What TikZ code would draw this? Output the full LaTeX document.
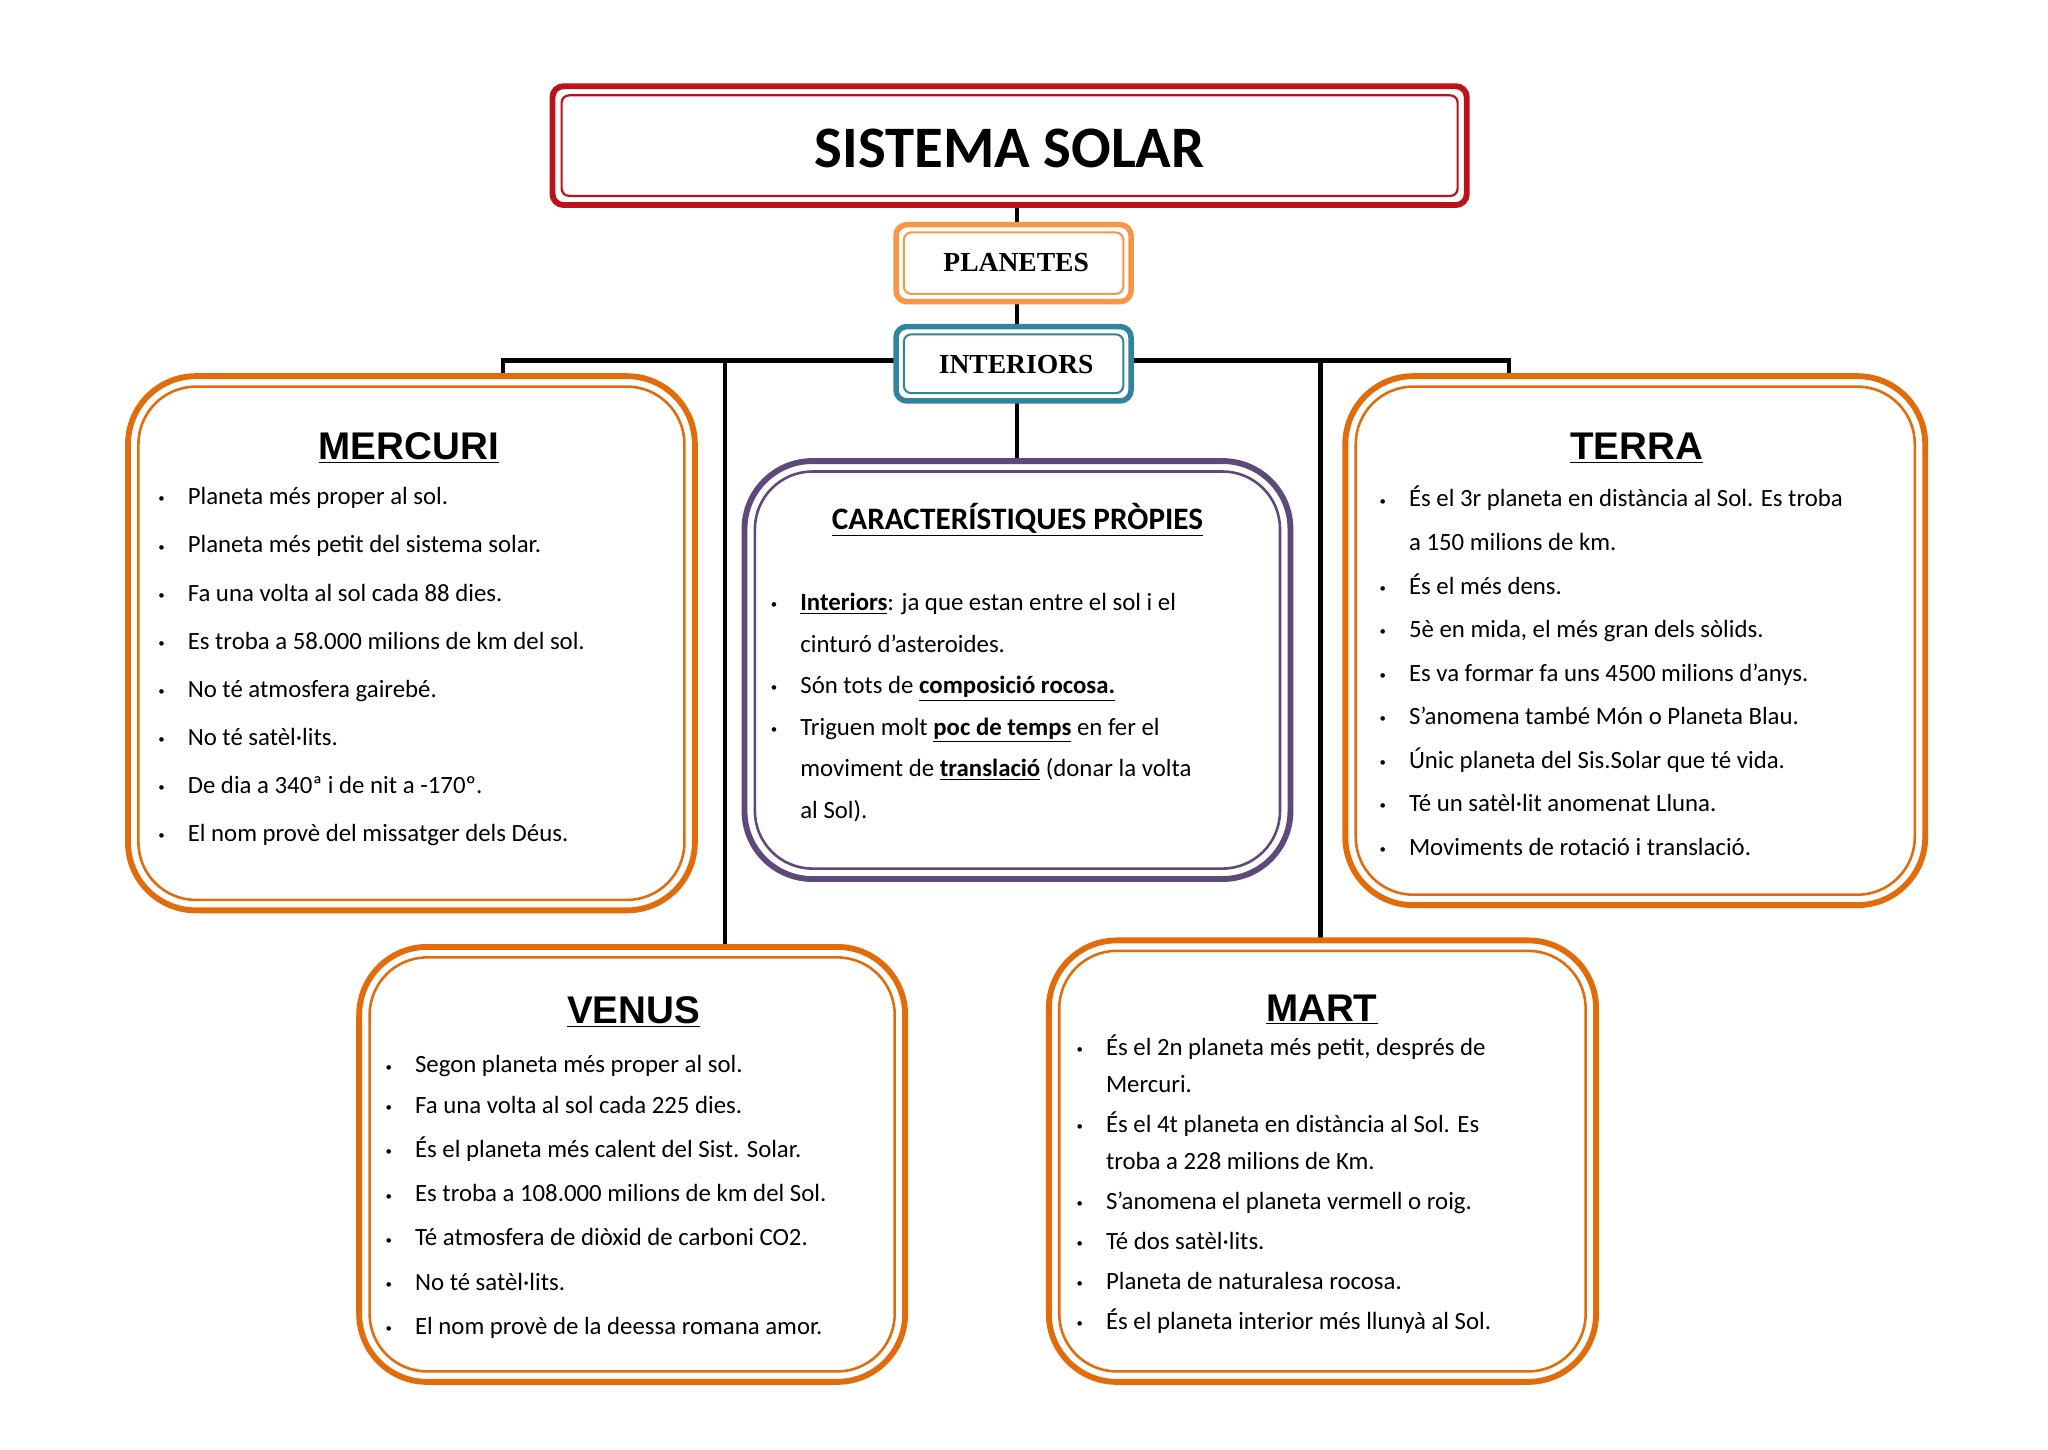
\documentclass[tikz,border=0pt]{standalone}
\usepackage{fontspec}
\setmainfont{Carlito}
\newfontfamily\serifb{Liberation Serif}
\newfontfamily\headf{Liberation Sans}
\definecolor{cred}{HTML}{C0101A}
\definecolor{corg}{HTML}{E36C0A}
\definecolor{clor}{HTML}{F79646}
\definecolor{cteal}{HTML}{31849B}
\definecolor{cpur}{HTML}{5F497A}
\newcommand{\bl}{\makebox[16pt][l]{\raisebox{1pt}{\scriptsize\textbullet}}}
\newcommand{\ind}{\hspace*{16pt}}
\begin{document}
\begin{tikzpicture}[x=0.025cm,y=-0.025cm,
  obox/.style={draw=#1,line width=3.2pt,rounded corners=1.3cm,fill=white,minimum width=0,inner sep=0},
  ibox/.style={draw=#1,line width=1.4pt,rounded corners=1.1cm,inner sep=0},
  con/.style={line width=2.2pt,black},
  head/.style={font=\headf\bfseries\fontsize{21}{24}\selectfont},
  lst/.style={anchor=north west,inner sep=0,align=left,font=\fontsize{13.5}{#1}\selectfont}]
\useasboundingbox (0,0) rectangle (1568,1110);
% connectors
\coordinate (hl) at (385,276); \coordinate (hr) at (1155,276);
\coordinate (vv) at (555,276); \coordinate (vm) at (1011,276);
\coordinate (tl) at (385,290); \coordinate (tr) at (1155,290);
\coordinate (cv) at (555,727); \coordinate (cm) at (1011,722);
\coordinate (ct) at (779,157); \coordinate (cb) at (779,355);
\draw[con] (ct) -- (cb);
\draw[con] (tl) -- (hl) -- (hr) -- (tr);
\draw[con] (vv) -- (cv);
\draw[con] (vm) -- (cm);
% title
\node[draw=cred,line width=3.2pt,rounded corners=6pt,fill=white,minimum width=700*0.025cm,minimum height=91*0.025cm] (title) at (773,111.5) {};
\node[draw=cred,line width=1.2pt,rounded corners=4pt,minimum width=686*0.025cm,minimum height=77*0.025cm] (titlei) at (773,111.5) {};
\node[font=\bfseries\fontsize{32}{36}\selectfont] (titlet) at (773,114) {SISTEMA SOLAR};
% planetes
\node[draw=clor,line width=3pt,rounded corners=6pt,fill=white,minimum width=180*0.025cm,minimum height=59*0.025cm] (plan) at (776,201.5) {};
\node[draw=clor,line width=1.1pt,rounded corners=4pt,minimum width=168*0.025cm,minimum height=47*0.025cm] (plani) at (776,201.5) {};
\node[font=\serifb\bfseries\fontsize{15}{18}\selectfont] (plant) at (778,201) {PLANETES};
% interiors
\node[draw=cteal,line width=3pt,rounded corners=6pt,fill=white,minimum width=180*0.025cm,minimum height=57*0.025cm] (int) at (776,278.5) {};
\node[draw=cteal,line width=1.1pt,rounded corners=4pt,minimum width=168*0.025cm,minimum height=45*0.025cm] (inti) at (776,278.5) {};
\node[font=\serifb\bfseries\fontsize{15}{18}\selectfont] (intt) at (778,279) {INTERIORS};
% boxes
\newcommand{\bx}[6]{% name, color, cx, cy, w, h
 \node[obox=#2,minimum width=#5*0.025cm,minimum height=#6*0.025cm] (#1) at (#3,#4) {};
 \node[ibox=#2,minimum width=(#5-16)*0.025cm,minimum height=(#6-16)*0.025cm] (#1i) at (#3,#4) {};}
\bx{merc}{corg}{315}{492.5}{434}{409}
\bx{terr}{corg}{1252}{490.5}{444}{405}
\bx{car}{cpur}{779}{513}{418}{320}
\bx{ven}{corg}{484}{891.5}{418}{333}
\bx{mar}{corg}{1012.5}{889}{419}{338}
% MERCURI
\node[head] (mh) at (313,343) {\underline{MERCURI}};
\node[lst=26.2pt] (ml) at (121,373) {\bl Planeta més proper al sol.\\
\bl Planeta més petit del sistema solar.\\
\bl Fa una volta al sol cada 88 dies.\\
\bl Es troba a 58.000  milions de km del sol.\\
\bl No té atmosfera gairebé.\\
\bl No té satèl·lits.\\
\bl De dia a 340ª i de nit a -170º.\\
\bl El nom provè del missatger dels Déus.};
% TERRA
\node[head] (th) at (1253,343) {\underline{TERRA}};
\node[lst=23.7pt] (tlst) at (1056,372) {\bl És el 3r planeta en distància al Sol. Es troba\\
\ind a 150 milions de km.\\
\bl És el més dens.\\
\bl 5è en mida, el més gran dels sòlids.\\
\bl Es va formar fa uns 4500 milions d’anys.\\
\bl S’anomena també Món o Planeta Blau.\\
\bl Únic planeta del Sis.Solar que té vida.\\
\bl Té un satèl·lit anomenat Lluna.\\
\bl Moviments de rotació i translació.};
% CARACTERISTIQUES
\node[font=\bfseries\fontsize{17}{20}\selectfont] (ch) at (779,398) {\underline{CARACTERÍSTIQUES PRÒPIES}};
\node[lst=22.6pt] (cl) at (590,454) {\bl \textbf{\underline{Interiors}}: ja que estan entre el sol i el\\
\ind cinturó d’asteroides.\\
\bl Són tots de \textbf{\underline{composició rocosa.}}\\
\bl Triguen molt \textbf{\underline{poc de temps}} en fer el\\
\ind moviment de \textbf{\underline{translació}} (donar la volta\\
\ind al Sol).};
% VENUS
\node[head] (vh) at (485,775) {\underline{VENUS}};
\node[lst=22.2pt] (vl) at (295,808) {\bl Segon planeta més proper al sol.\\
\bl Fa una volta al sol cada 225 dies.\\[1.8pt]
\bl És el planeta més calent del Sist. Solar.\\[1.8pt]
\bl Es troba a 108.000  milions de km del Sol.\\[1.8pt]
\bl Té atmosfera de diòxid de carboni CO2.\\[1.8pt]
\bl No té satèl·lits.\\[1.8pt]
\bl El nom provè de la deessa romana amor.};
% MART
\node[head] (mth) at (1012,773) {\underline{MART}};
\node[lst=20.2pt] (mtl) at (824,792) {\bl És el 2n planeta més petit, després de\\
\ind Mercuri.\\[1.5pt]
\bl És el 4t planeta en distància al Sol. Es\\
\ind troba a 228 milions de Km.\\[1.5pt]
\bl S’anomena el planeta vermell o roig.\\[1.5pt]
\bl Té dos satèl·lits.\\[1.5pt]
\bl Planeta de naturalesa rocosa.\\[1.5pt]
\bl És el planeta interior més llunyà al Sol.};
\end{tikzpicture}
\end{document}
